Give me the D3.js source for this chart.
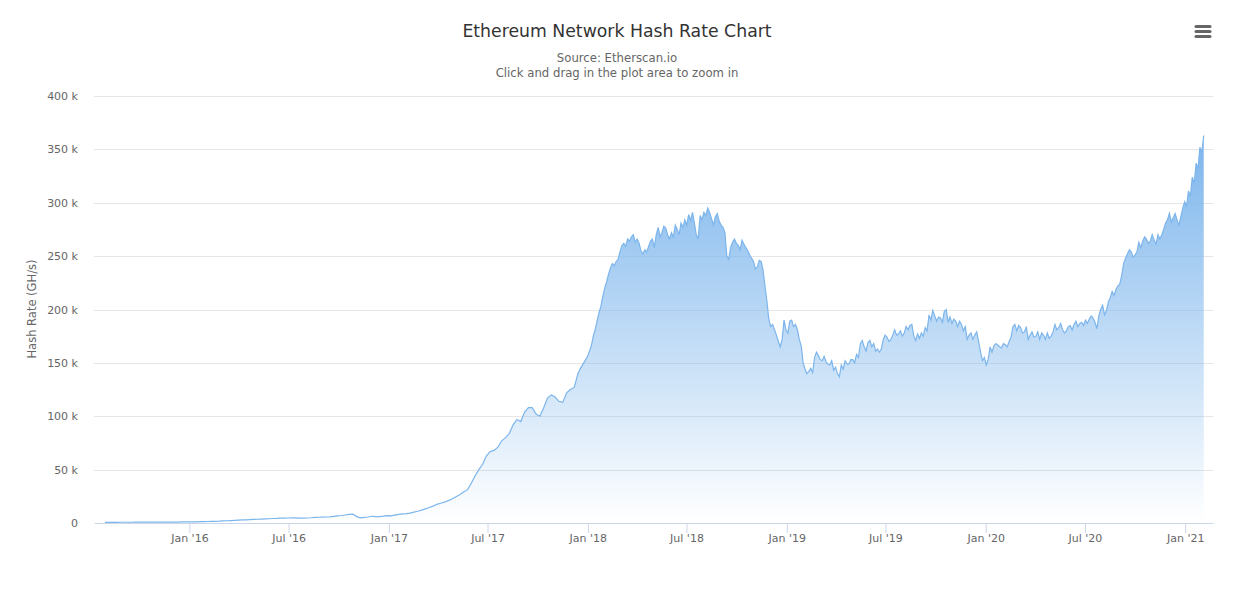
<!DOCTYPE html>
<html>
<head>
<meta charset="utf-8">
<title>Ethereum Network Hash Rate Chart</title>
<script src="https://cdn.jsdelivr.net/npm/d3@7"></script>
<style>
  html, body { margin: 0; padding: 0; background: #fff; }
  svg { display: block; font-family: "DejaVu Sans", sans-serif; }
</style>
</head>
<body>
<svg id="chart" width="1233" height="591"></svg>
<script>
// readings, thousands of GH/s
// weekly while the curve is calm, then twice a week from the end of 2017
const firstWeek = "2015-07-30";
const weeklyRate = [
  0.5,0.5,0.6,0.6,0.7,0.7,0.7,0.7,0.8,0.8,0.8,0.8,0.8,0.8,0.8,0.8,0.9,0.9,0.9,0.9,1.0,1.0,1.1,
  1.1,1.1,1.2,1.3,1.4,1.5,1.6,1.7,1.9,2.1,2.3,2.5,2.7,2.9,3.0,3.2,3.4,3.5,3.7,3.9,4.0,4.2,4.3,4.5,4.6,4.7,
  4.8,4.8,4.6,4.5,4.7,4.9,5.2,5.4,5.5,5.6,5.7,6.2,6.7,7.0,7.5,8.0,8.4,6.0,4.8,5.3,5.6,6.3,5.9,6.0,6.4,6.9,
  6.6,7.3,8.0,8.5,8.8,9.3,10.2,11.0,12.0,13.2,14.5,15.8,17.5,18.5,19.5,21.0,22.5,24.5,26.5,29,31,37,44,50,55,63,
  67,68,71,77,80,84,92,97,95,104,108,108,102,100,108,117,120,118,114,113,122,125,127
];
const halfWeekRate = [
  140,144,147,150,153,156,161,166,175,181,189,197,203,212,220,226,233,239,243,241,245,247,254,260,262,259,266,264,
  268,270,263,266,262,255,252,256,254,259,264,266,258,270,277,268,272,278,276,270,266,272,268,279,275,270,281,277,
  284,279,289,283,291,281,270,266,288,284,291,288,295,291,285,279,287,290,283,279,277,272,250,247,258,263,266,262,
  260,256,265,261,258,255,251,248,245,238,240,246,245,237,222,208,191,184,186,181,176,170,165,172,190,181,178,189,
  190,184,186,181,172,166,150,144,140,142,145,141,155,160,157,153,152,156,151,149,148,152,143,146,140,137,148,144,
  152,149,149,153,153,150,158,155,168,171,165,161,169,171,165,168,161,163,160,163,172,176,174,170,172,176,181,176,
  177,180,175,178,184,181,185,186,175,171,177,173,178,175,183,180,195,190,199,194,189,193,192,188,198,200,188,193,
  187,191,189,184,189,186,180,184,172,176,178,172,176,179,170,160,152,155,148,153,165,160,166,168,167,165,164,168,
  167,165,170,174,184,186,180,185,183,178,179,184,172,176,179,174,175,179,172,178,176,172,178,173,175,179,186,181,
  183,187,181,178,180,184,185,181,186,189,184,187,188,185,190,187,191,194,192,188,182,194,200,204,195,199,207,211,
  217,213,219,222,224,232,243,248,252,256,254,249,251,254,263,258,264,268,266,262,264,270,265,261,270,266,270,275,
  281,284,290,282,286,290,284,279,287,295,301,297,311,306,324,318,337,332,352,347,363
];
const yTicks = [0, 50, 100, 150, 200, 250, 300, 350, 400];
const xTickDates = ["2016-01-01","2016-07-01","2017-01-01","2017-07-01","2018-01-01","2018-07-01",
  "2019-01-01","2019-07-01","2020-01-01","2020-07-01","2021-01-01"];
const xDomain = ["2015-07-10", "2021-02-21"];

const plotLeft = 94, plotRight = 1213, plotTop = 96, plotBottom = 523;
const svg = d3.select("#chart");

const start = new Date(firstWeek);
const series = weeklyRate.map((v, i) => ({ date: d3.utcDay.offset(start, i * 7), value: v }))
  .concat(halfWeekRate.map((v, i) => ({
    date: d3.utcHour.offset(start, weeklyRate.length * 7 * 24 + i * 84),
    value: v
  })));

const xScale = d3.scaleUtc().domain(xDomain.map(d => new Date(d))).range([plotLeft, plotRight]);
const yScale = d3.scaleLinear().domain([0, 400]).range([plotBottom, plotTop]);

const grad = svg.append("defs").append("linearGradient")
  .attr("id", "areaFill").attr("x1", 0).attr("y1", 0).attr("x2", 0).attr("y2", 1);
grad.append("stop").attr("offset", 0).attr("stop-color", "#7cb5ec").attr("stop-opacity", 1);
grad.append("stop").attr("offset", 1).attr("stop-color", "#7cb5ec").attr("stop-opacity", 0);

// grid first so it shows faintly through the fill
svg.append("g").selectAll("line").data(yTicks.slice(1)).enter().append("line")
  .attr("x1", plotLeft).attr("x2", plotRight)
  .attr("y1", d => Math.round(yScale(d)) + 0.5).attr("y2", d => Math.round(yScale(d)) + 0.5)
  .style("stroke", "#e6e6e6").style("stroke-width", 1);

const area = d3.area().x(d => xScale(d.date)).y0(yScale(0)).y1(d => yScale(d.value));
const line = d3.line().x(d => xScale(d.date)).y(d => yScale(d.value));

svg.append("path").datum(series).attr("d", area).style("fill", "url(#areaFill)");
svg.append("path").datum(series).attr("d", line)
  .style("fill", "none").style("stroke", "#7cb5ec").style("stroke-width", 1.2);

// x axis
const xAxis = svg.append("g").attr("transform", `translate(0,${plotBottom})`)
  .call(d3.axisBottom(xScale)
    .tickValues(xTickDates.map(d => new Date(d)))
    .tickFormat(d3.utcFormat("%b '%y"))
    .tickSize(10).tickSizeOuter(0));
xAxis.attr("font-family", null);
xAxis.select(".domain").style("stroke", "#ccd6eb");
xAxis.selectAll(".tick line").style("stroke", "#ccd6eb");
xAxis.selectAll(".tick text").attr("y", 11).attr("dy", "0.71em")
  .style("fill", "#666").style("font-size", "11px");

// y axis
const yAxis = svg.append("g").attr("transform", `translate(${plotLeft},0)`)
  .call(d3.axisLeft(yScale).tickValues(yTicks)
    .tickFormat(d => d === 0 ? "0" : d + " k").tickSize(0));
yAxis.attr("font-family", null);
yAxis.select(".domain").remove();
yAxis.selectAll(".tick text").attr("x", -16)
  .style("fill", "#666").style("font-size", "11px");

svg.append("text").attr("transform", "translate(36,309) rotate(-90)")
  .attr("text-anchor", "middle").style("fill", "#666").style("font-size", "11.5px")
  .text("Hash Rate (GH/s)");

// titles
svg.append("text").attr("x", 617).attr("y", 37).attr("text-anchor", "middle")
  .style("fill", "#333").style("font-size", "17.3px").text("Ethereum Network Hash Rate Chart");
svg.append("text").attr("x", 617).attr("y", 62).attr("text-anchor", "middle")
  .style("fill", "#666").style("font-size", "11.7px").text("Source: Etherscan.io");
svg.append("text").attr("x", 617).attr("y", 77).attr("text-anchor", "middle")
  .style("fill", "#666").style("font-size", "11.7px").text("Click and drag in the plot area to zoom in");

// export menu icon
svg.append("g").selectAll("line").data([26.5, 31.5, 36.5]).enter().append("line")
  .attr("x1", 1196).attr("x2", 1210).attr("y1", d => d).attr("y2", d => d)
  .style("stroke", "#666").style("stroke-width", 3).style("stroke-linecap", "round");
</script>
</body>
</html>
